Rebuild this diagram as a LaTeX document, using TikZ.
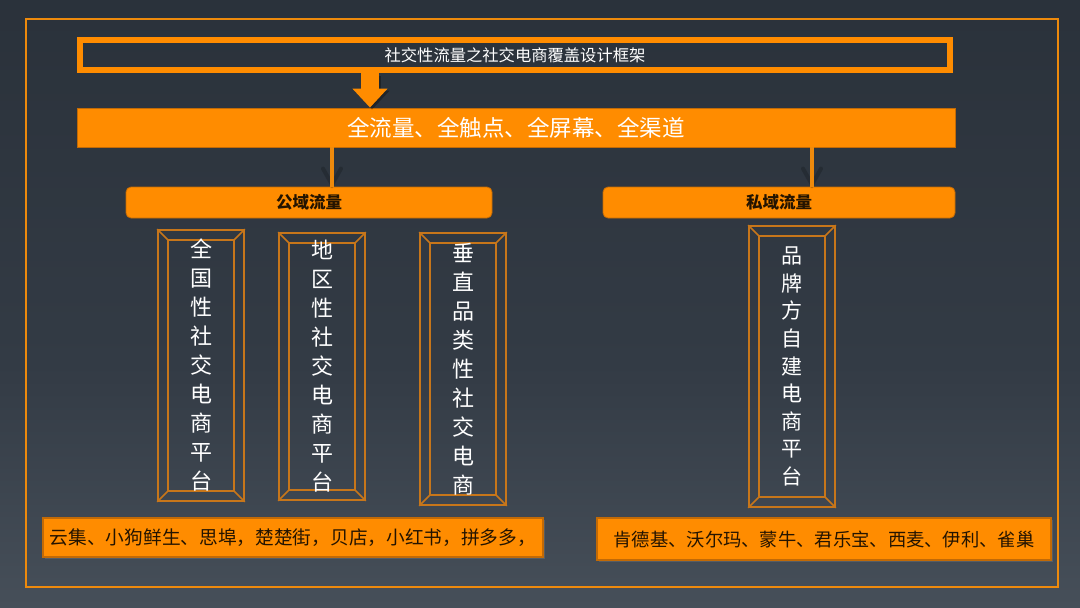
\documentclass[tikz,border=0pt]{standalone}
\usepackage{fontspec}
\setmainfont{Noto Sans CJK SC}
\usetikzlibrary{calc,arrows.meta,shadows}
\definecolor{bgtop}{HTML}{232A32}
\definecolor{bgmid}{HTML}{333B45}
\definecolor{bgbot}{HTML}{5E6872}
\definecolor{org}{HTML}{FF8C00}
\definecolor{orgline}{HTML}{EE8A0C}
\definecolor{orgdark}{HTML}{C26A06}
\definecolor{bevelc}{HTML}{C7761A}
\definecolor{txtdark}{HTML}{241400}
\pgfdeclareverticalshading{bgshade}{100bp}{color(0bp)=(bgbot); color(45bp)=(bgmid); color(100bp)=(bgtop)}
\newcommand\bevelin[1]{%
  \draw[bevelline] ($(#1.north west)+(11,11)$) rectangle ($(#1.south east)+(-11,-11)$);
  \draw[bevelline] (#1.north west) -- ++(11,11);
  \draw[bevelline] (#1.north east) -- ++(-11,11);
  \draw[bevelline] (#1.south west) -- ++(11,-11);
  \draw[bevelline] (#1.south east) -- ++(-11,-11);}
\begin{document}
\begin{tikzpicture}[x=1pt,y=-1pt,
  bar/.style={fill=org, draw=orgdark, line width=0.8pt, inner sep=0pt},
  sub/.style={bar, rounded corners=5pt, minimum height=31, font=\fontsize{16.5}{16.5}\selectfont\bfseries, text=txtdark},
  bevelline/.style={draw=bevelc, line width=1.7pt},
  vbox/.style={bevelline, minimum width=86, inner sep=0pt},
  vtext/.style={text=white, align=center, inner sep=0pt, font=\fontsize{22}{29}\selectfont},
  bottombox/.style={bar, draw=orgdark, line width=1.5pt, font=\fontsize{18.7}{18.7}\selectfont, text=txtdark,
     drop shadow={opacity=0.35, shadow xshift=2pt, shadow yshift=-2pt}},
  conn/.style={draw=orgline, line width=4pt},
  bigarrow/.style={draw=org, line width=18pt, -{Triangle[width=34pt,length=19pt]}}]
\useasboundingbox (0,0) rectangle (1080,608);
\shade[shading=bgshade] (0,0) rectangle (1080,608);
\draw[orgline, line width=1.5pt] (26,19) rectangle (1058,587);
% title
\node[draw=org, line width=6pt, minimum width=870, minimum height=30, inner sep=0pt, text=white,
  font=\fontsize{16.3}{16.3}\selectfont] (title) at (515,55) {社交性流量之社交电商覆盖设计框架};
% main bar
\node[bar, minimum width=878, minimum height=39, text=white, font=\fontsize{22.5}{22.5}\selectfont]
  (main) at (516,127.5) {全流量、全触点、全屏幕、全渠道};
\coordinate (ax) at (370,0);
\draw[draw=black, opacity=0.3, line width=18pt, -{Triangle[width=34pt,length=19pt]}] ($(title.south -| ax)+(2,3)$) -- ($(main.north -| ax)+(2,2)$);
\draw[bigarrow] (title.south -| ax) -- (main.north -| ax);
% sub headers
\node[sub, minimum width=366] (pub) at (309,202.5) {公域流量};
\node[sub, minimum width=352] (priv) at (779,202.5) {私域流量};
\coordinate (c1) at (332,0);
\coordinate (c2) at (812,0);
\draw[black, opacity=0.18, line width=4pt, line cap=round] ($(pub.north -| c1)+(-9,-18)$) -- ($(pub.north -| c1)+(0,-2)$) -- ($(pub.north -| c1)+(9,-18)$);
\draw[black, opacity=0.18, line width=4pt, line cap=round] ($(priv.north -| c2)+(-9,-18)$) -- ($(priv.north -| c2)+(0,-2)$) -- ($(priv.north -| c2)+(9,-18)$);
\draw[conn] (main.south -| c1) -- (pub.north -| c1);
\draw[conn] (main.south -| c2) -- (priv.north -| c2);
% vertical boxes
\node[vbox, minimum height=271] (b1) at (201,365.5) {};
\node[vbox, minimum height=267] (b2) at (322,366.5) {};
\node[vbox, minimum height=272] (b3) at (463,369) {};
\node[vbox, minimum height=281] (b4) at (792,366.5) {};
\bevelin{b1}\bevelin{b2}\bevelin{b3}\bevelin{b4}
\node[vtext] (t1) at (b1.center) {全\\国\\性\\社\\交\\电\\商\\平\\台};
\node[vtext] (t2) at (b2.center) {地\\区\\性\\社\\交\\电\\商\\平\\台};
\node[vtext] (t3) at (b3.center) {垂\\直\\品\\类\\性\\社\\交\\电\\商};
\node[vtext, font=\fontsize{21}{27.6}\selectfont] (t4) at (b4.center) {品\\牌\\方\\自\\建\\电\\商\\平\\台};
% bottom boxes
\node[bottombox, minimum width=500, minimum height=39] (bl) at (293,537.5) {云集、小狗鲜生、思埠，楚楚街，贝店，小红书，拼多多，};
\node[bottombox, minimum width=454, minimum height=42, font=\fontsize{18.3}{18.3}\selectfont] (br) at (824,539) {肯德基、沃尔玛、蒙牛、君乐宝、西麦、伊利、雀巢};
\end{tikzpicture}
\end{document}
